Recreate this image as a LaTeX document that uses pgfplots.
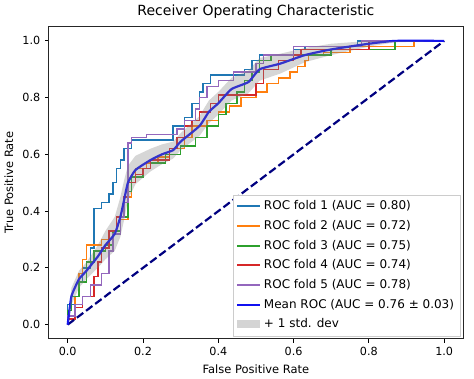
\documentclass[border=0pt]{standalone}
\usepackage{fontspec}
\setmainfont{DejaVu Sans}
\usepackage{pgfplots}
\pgfplotsset{compat=1.18}
\definecolor{tabblue}{HTML}{1F77B4}
\definecolor{taborange}{HTML}{FF7F0E}
\definecolor{tabgreen}{HTML}{2CA02C}
\definecolor{tabred}{HTML}{D62728}
\definecolor{tabpurple}{HTML}{9467BD}
\definecolor{meanc}{HTML}{1010F0}
\definecolor{navyc}{HTML}{000080}
\definecolor{bandc}{HTML}{D4D4D4}
\pgfplotsset{
  lineleg/.style={legend image code/.code={\draw[#1, line width=1.4pt, opacity=1] (0cm,0cm) -- (0.6cm,0cm);}},
}
\begin{document}
\begin{tikzpicture}
\begin{axis}[
  scale only axis, width=310.5pt, height=234pt,
  xmin=-0.05, xmax=1.05, ymin=-0.05, ymax=1.05,
  xtick={0,0.2,0.4,0.6,0.8,1.0}, ytick={0,0.2,0.4,0.6,0.8,1.0},
  /pgf/number format/assume math mode=true,
  /pgf/number format/.cd, fixed, fixed zerofill, precision=1, /pgfplots/.cd,
  tick align=outside, xtick pos=bottom, ytick pos=left,
  major tick length=2.9pt,
  tick style={black, line width=0.6pt},
  axis line style={black!85, line width=0.6pt},
  ticklabel style={font=\fontsize{8.4}{10}\selectfont},
  xlabel={False Positive Rate}, ylabel={True Positive Rate},
  label style={font=\fontsize{8.6}{10}\selectfont},
  title={Receiver Operating Characteristic},
  title style={font=\fontsize{10.5}{12}\selectfont, yshift=-3pt},
  legend style={at={(rel axis cs:1,0)}, anchor=south east, xshift=-2pt, yshift=2pt,
    draw=black!20, fill=white,
    font=\fontsize{9}{10.5}\selectfont, row sep=2.4pt, inner sep=2.5pt,
    /tikz/every even column/.append style={column sep=2pt}},
  legend cell align=left,
]
\addplot[color=tabblue, line width=1.1pt, lineleg=tabblue] coordinates {(0,0)(0,0.07)(0.02,0.07)(0.02,0.10)(0.03,0.10)(0.03,0.15)(0.04,0.15)(0.04,0.20)(0.06,0.20)(0.06,0.27)(0.07,0.27)(0.07,0.41)(0.09,0.41)(0.09,0.43)(0.11,0.43)(0.11,0.46)(0.12,0.46)(0.12,0.50)(0.13,0.50)(0.13,0.55)(0.14,0.55)(0.14,0.58)(0.15,0.58)(0.15,0.62)(0.17,0.62)(0.17,0.65)(0.28,0.65)(0.28,0.70)(0.31,0.70)(0.31,0.73)(0.33,0.73)(0.33,0.78)(0.35,0.78)(0.35,0.82)(0.36,0.82)(0.36,0.85)(0.38,0.85)(0.38,0.88)(0.47,0.88)(0.47,0.90)(0.49,0.90)(0.49,0.93)(0.51,0.93)(0.51,0.95)(0.60,0.95)(0.60,0.97)(0.63,0.97)(0.63,0.98)(0.77,0.98)(0.77,1.0)(1,1)};
\addlegendentry{ROC fold 1 (AUC = 0.80)}
\addplot[color=taborange, line width=1.1pt, lineleg=taborange] coordinates {(0,0)(0,0.03)(0.02,0.03)(0.02,0.10)(0.03,0.10)(0.03,0.18)(0.04,0.18)(0.04,0.23)(0.05,0.23)(0.05,0.28)(0.09,0.28)(0.09,0.30)(0.12,0.30)(0.12,0.33)(0.14,0.33)(0.14,0.37)(0.16,0.37)(0.16,0.45)(0.17,0.45)(0.17,0.52)(0.18,0.52)(0.18,0.55)(0.21,0.55)(0.21,0.57)(0.24,0.57)(0.24,0.59)(0.27,0.59)(0.27,0.62)(0.31,0.62)(0.31,0.66)(0.33,0.66)(0.33,0.70)(0.37,0.70)(0.37,0.72)(0.40,0.72)(0.40,0.75)(0.43,0.75)(0.43,0.77)(0.46,0.77)(0.46,0.80)(0.50,0.80)(0.50,0.82)(0.53,0.82)(0.53,0.85)(0.56,0.85)(0.56,0.87)(0.59,0.87)(0.59,0.89)(0.61,0.89)(0.61,0.91)(0.63,0.91)(0.63,0.93)(0.64,0.93)(0.64,0.95)(0.68,0.95)(0.68,0.96)(0.75,0.96)(0.75,0.98)(0.92,0.98)(0.92,1.0)(1,1)};
\addlegendentry{ROC fold 2 (AUC = 0.72)}
\addplot[color=tabgreen, line width=1.1pt, lineleg=tabgreen] coordinates {(0,0)(0,0.05)(0.01,0.05)(0.01,0.10)(0.03,0.10)(0.03,0.15)(0.05,0.15)(0.05,0.22)(0.07,0.22)(0.07,0.26)(0.10,0.26)(0.10,0.28)(0.12,0.28)(0.12,0.33)(0.14,0.33)(0.14,0.38)(0.16,0.38)(0.16,0.47)(0.17,0.47)(0.17,0.52)(0.20,0.52)(0.20,0.55)(0.22,0.55)(0.22,0.57)(0.26,0.57)(0.26,0.60)(0.30,0.60)(0.30,0.63)(0.34,0.63)(0.34,0.66)(0.37,0.66)(0.37,0.70)(0.40,0.70)(0.40,0.74)(0.42,0.74)(0.42,0.78)(0.45,0.78)(0.45,0.82)(0.47,0.82)(0.47,0.86)(0.49,0.86)(0.49,0.89)(0.51,0.89)(0.51,0.93)(0.54,0.93)(0.54,0.95)(0.70,0.95)(0.70,0.97)(0.87,0.97)(0.87,1.0)(1,1)};
\addlegendentry{ROC fold 3 (AUC = 0.75)}
\addplot[color=tabred, line width=1.1pt, lineleg=tabred] coordinates {(0,0)(0,0.02)(0.02,0.02)(0.02,0.06)(0.04,0.06)(0.04,0.10)(0.07,0.10)(0.07,0.17)(0.08,0.17)(0.08,0.22)(0.09,0.22)(0.09,0.27)(0.11,0.27)(0.11,0.33)(0.13,0.33)(0.13,0.38)(0.15,0.38)(0.15,0.45)(0.16,0.45)(0.16,0.50)(0.18,0.50)(0.18,0.53)(0.20,0.53)(0.20,0.55)(0.22,0.55)(0.22,0.58)(0.27,0.58)(0.27,0.62)(0.29,0.62)(0.29,0.66)(0.31,0.66)(0.31,0.70)(0.33,0.70)(0.33,0.72)(0.35,0.72)(0.35,0.75)(0.38,0.75)(0.38,0.78)(0.40,0.78)(0.40,0.81)(0.50,0.81)(0.50,0.85)(0.52,0.85)(0.52,0.90)(0.56,0.90)(0.56,0.93)(0.60,0.93)(0.60,0.95)(0.62,0.95)(0.62,0.97)(0.80,0.97)(0.80,1.0)(1,1)};
\addlegendentry{ROC fold 4 (AUC = 0.74)}
\addplot[color=tabpurple, line width=1.1pt, lineleg=tabpurple] coordinates {(0,0)(0,0.03)(0.02,0.03)(0.02,0.07)(0.04,0.07)(0.04,0.10)(0.06,0.10)(0.06,0.14)(0.09,0.14)(0.09,0.18)(0.11,0.18)(0.11,0.26)(0.12,0.26)(0.12,0.32)(0.14,0.32)(0.14,0.38)(0.15,0.38)(0.15,0.43)(0.16,0.43)(0.16,0.64)(0.17,0.64)(0.17,0.66)(0.21,0.66)(0.21,0.67)(0.29,0.67)(0.29,0.69)(0.31,0.69)(0.31,0.72)(0.34,0.72)(0.34,0.76)(0.35,0.76)(0.35,0.80)(0.37,0.80)(0.37,0.84)(0.40,0.84)(0.40,0.86)(0.44,0.86)(0.44,0.89)(0.50,0.89)(0.50,0.92)(0.52,0.92)(0.52,0.95)(0.60,0.95)(0.60,0.98)(0.78,0.98)(0.78,1.0)(1,1)};
\addlegendentry{ROC fold 5 (AUC = 0.78)}
\addplot[color=navyc, line width=1.65pt, dash pattern=on 6pt off 2.6pt, forget plot] coordinates {(0,0)(1,1)};
\addplot[color=meanc, line width=1.65pt, smooth, tension=0.3,
  legend image code/.code={\draw[meanc, line width=1.65pt] (0cm,0cm) -- (0.6cm,0cm);}] coordinates {(0,0)(0.01,0.10)(0.03,0.16)(0.05,0.19)(0.08,0.24)(0.10,0.28)(0.125,0.32)(0.14,0.38)(0.15,0.44)(0.16,0.50)(0.18,0.545)(0.22,0.58)(0.25,0.60)(0.28,0.615)(0.30,0.645)(0.35,0.70)(0.375,0.75)(0.40,0.78)(0.435,0.83)(0.48,0.855)(0.51,0.90)(0.565,0.92)(0.63,0.95)(0.70,0.97)(0.80,0.99)(0.87,1.0)(1.0,1.0)};
\addlegendentry{Mean ROC (AUC = 0.76 ± 0.03)}
\addplot[draw=none, fill=gray, fill opacity=0.32,
  legend image code/.code={\fill[bandc, fill opacity=1] (0cm,-0.09cm) rectangle (0.6cm,0.11cm);}]
  coordinates {(0,0)(0.01,0.13)(0.03,0.19)(0.05,0.22)(0.08,0.28)(0.10,0.33)(0.125,0.38)(0.14,0.45)(0.15,0.51)(0.16,0.56)(0.18,0.595)(0.22,0.62)(0.25,0.635)(0.28,0.645)(0.30,0.675)(0.35,0.735)(0.375,0.79)(0.40,0.82)(0.435,0.87)(0.48,0.895)(0.51,0.94)(0.565,0.955)(0.63,0.975)(0.70,0.99)(0.80,1.0)(0.87,1.0)(1.0,1.0)(1.0,1.0)(0.87,0.995)(0.80,0.98)(0.70,0.95)(0.63,0.925)(0.565,0.885)(0.51,0.86)(0.48,0.815)(0.435,0.79)(0.40,0.74)(0.375,0.71)(0.35,0.665)(0.30,0.615)(0.28,0.585)(0.25,0.565)(0.22,0.54)(0.18,0.495)(0.16,0.44)(0.15,0.37)(0.14,0.31)(0.125,0.26)(0.10,0.23)(0.08,0.20)(0.05,0.16)(0.03,0.13)(0.01,0.07)(0,0)} -- cycle;
\addlegendentry{+ 1 std. dev}
\end{axis}
\path ([xshift=8.25pt]current axis.east);
\end{tikzpicture}
\end{document}
